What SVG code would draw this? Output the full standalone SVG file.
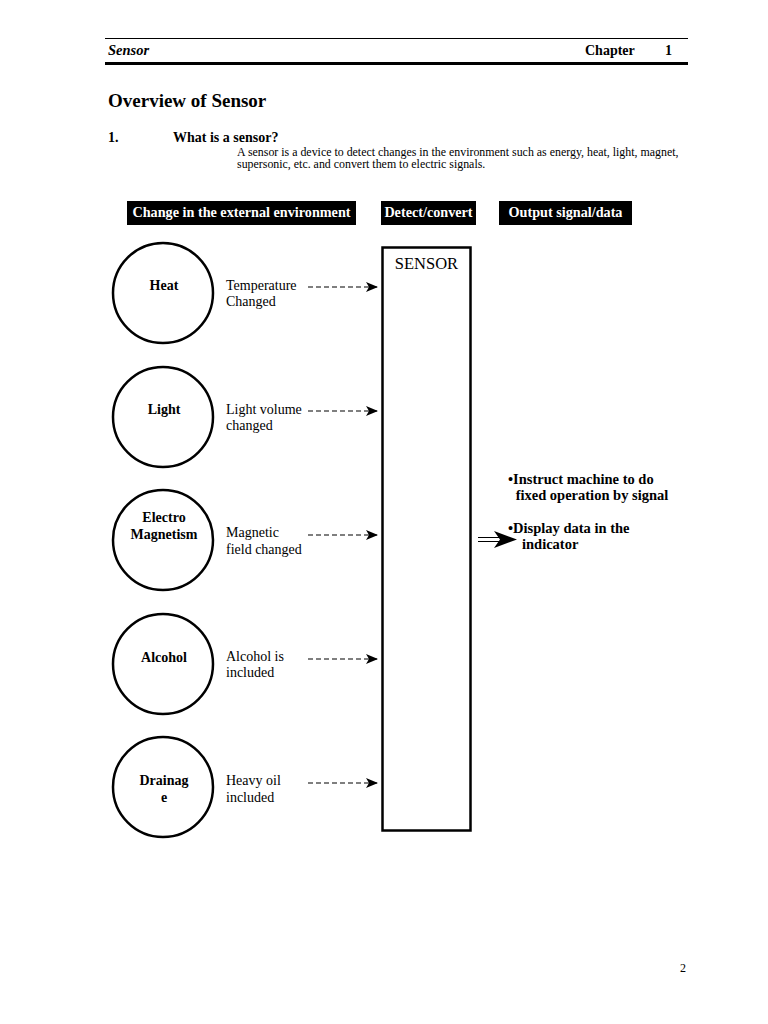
<svg xmlns="http://www.w3.org/2000/svg" width="768" height="1024" viewBox="0 0 768 1024">
<style>
text{font-family:"Liberation Serif","Times New Roman",serif;fill:#000}
.b{font-weight:bold}
.hd{font-size:14.2px;font-weight:bold;fill:#fff}
.lbl{font-size:14px}
.nl{font-size:14px;font-weight:bold;text-anchor:middle}
.out{font-size:14.5px;font-weight:bold}
.circ{fill:#fff;stroke:#000;stroke-width:2.5}
.dash{stroke:#000;stroke-width:1.2;stroke-dasharray:5,3;fill:none}
</style>
<defs>
<marker id="ah" markerWidth="13" markerHeight="10" refX="12" refY="5" orient="auto" markerUnits="userSpaceOnUse">
<path d="M0,0 L12,5 L0,10 L3,5 Z" fill="#000"/>
</marker>
</defs>
<rect x="0" y="0" width="768" height="1024" fill="#fff"/>
<g id="header">
<line x1="105" y1="38.5" x2="688" y2="38.5" stroke="#000" stroke-width="1"/>
<line x1="105" y1="63.5" x2="688" y2="63.5" stroke="#000" stroke-width="3"/>
<text x="108" y="55" style="font-size:14.5px;font-weight:bold;font-style:italic">Sensor</text>
<text x="585" y="55" class="b" style="font-size:14px">Chapter</text>
<text x="665" y="55" class="b" style="font-size:14px">1</text>
</g>
<g id="title">
<text x="108" y="107" class="b" style="font-size:19px">Overview of Sensor</text>
<text x="108" y="142" class="b" style="font-size:14px">1.</text>
<text x="173" y="142" class="b" style="font-size:14px">What is a sensor?</text>
<text x="237" y="156" style="font-size:11.9px">A sensor is a device to detect changes in the environment such as energy, heat, light, magnet,</text>
<text x="237" y="168" style="font-size:11.9px">supersonic, etc. and convert them to electric signals.</text>
</g>
<g id="headers">
<rect x="127" y="201" width="229" height="24" fill="#000"/>
<text x="241.5" y="217" class="hd" text-anchor="middle">Change in the external environment</text>
<rect x="381" y="201" width="95" height="24" fill="#000"/>
<text x="428.5" y="217" class="hd" text-anchor="middle">Detect/convert</text>
<rect x="499" y="201" width="133" height="24" fill="#000"/>
<text x="565.5" y="217" class="hd" text-anchor="middle">Output signal/data</text>
</g>
<g id="node-heat">
<circle cx="163" cy="293" r="50" class="circ"/>
<text x="164" y="290" class="nl">Heat</text>
<text x="226" y="290" class="lbl">Temperature</text>
<text x="226" y="306" class="lbl">Changed</text>
</g>
<g id="node-light">
<circle cx="163" cy="417" r="50" class="circ"/>
<text x="164" y="414" class="nl">Light</text>
<text x="226" y="414" class="lbl">Light volume</text>
<text x="226" y="430" class="lbl">changed</text>
</g>
<g id="node-electro">
<circle cx="163" cy="540" r="50" class="circ"/>
<text x="164" y="522" class="nl">Electro</text>
<text x="164" y="539" class="nl">Magnetism</text>
<text x="226" y="537" class="lbl">Magnetic</text>
<text x="226" y="554" class="lbl">field changed</text>
</g>
<g id="node-alcohol">
<circle cx="163" cy="664" r="50" class="circ"/>
<text x="164" y="662" class="nl">Alcohol</text>
<text x="226" y="661" class="lbl">Alcohol is</text>
<text x="226" y="677" class="lbl">included</text>
</g>
<g id="node-drainage">
<circle cx="163" cy="787" r="50" class="circ"/>
<text x="164" y="785" class="nl">Drainag</text>
<text x="164" y="802" class="nl">e</text>
<text x="226" y="785" class="lbl">Heavy oil</text>
<text x="226" y="802" class="lbl">included</text>
</g>
<g id="node-sensor">
<rect x="382.5" y="247.5" width="88" height="583" fill="#fff" stroke="#000" stroke-width="2.5"/>
<text x="426.5" y="268.5" text-anchor="middle" style="font-size:16.5px">SENSOR</text>
</g>
<g id="node-output">
<text x="508" y="484" class="out">•Instruct machine to do</text>
<text x="512" y="500" class="out" xml:space="preserve"> fixed operation by signal</text>
<text x="508" y="533" class="out">•Display data in the</text>
<text x="522" y="549" class="out">indicator</text>
</g>
<g id="connectors">
<line x1="308" y1="287" x2="378" y2="287" class="dash" marker-end="url(#ah)"/>
<line x1="308" y1="411" x2="378" y2="411" class="dash" marker-end="url(#ah)"/>
<line x1="308" y1="535" x2="378" y2="535" class="dash" marker-end="url(#ah)"/>
<line x1="308" y1="659" x2="378" y2="659" class="dash" marker-end="url(#ah)"/>
<line x1="308" y1="783" x2="378" y2="783" class="dash" marker-end="url(#ah)"/>
<line x1="478" y1="537.5" x2="503" y2="537.5" stroke="#000" stroke-width="1"/>
<line x1="478" y1="541.5" x2="503" y2="541.5" stroke="#000" stroke-width="1"/>
<path d="M494,531 L517,539.5 L494,548 L500,539.5 Z" fill="#000"/>
</g>
<text x="680" y="972" style="font-size:12px">2</text>
</svg>
